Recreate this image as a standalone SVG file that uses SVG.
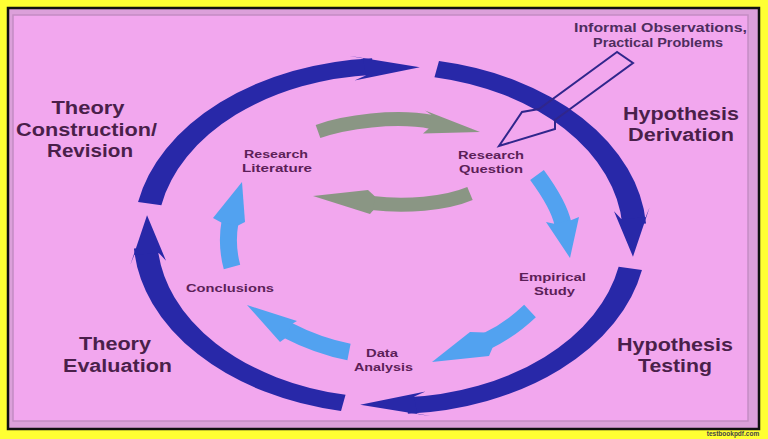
<svg xmlns="http://www.w3.org/2000/svg" width="768" height="439" viewBox="0 0 768 439">
<defs>
<style>
.big{font-family:"Liberation Sans",Arial,sans-serif;font-weight:700;font-size:18px;fill:#4a1f4a;text-anchor:middle}
.sm{font-family:"Liberation Sans",Arial,sans-serif;font-weight:700;font-size:11.5px;fill:#5c1f58;text-anchor:middle}
.inf{font-family:"Liberation Sans",Arial,sans-serif;font-weight:700;font-size:12.5px;fill:#4e2d5e;text-anchor:middle}
.arc{fill:none;stroke:#2828a8;stroke-width:16.5}
.arcHead{fill:#2828a8}
.lb{fill:none;stroke:#52a2f0;stroke-width:17}
.lbh{fill:#52a2f0}
.gr{fill:none;stroke:#8a9684;stroke-width:14}
.grh{fill:#8a9684}
</style>
<g id="bigArrowShape">
<path class="arc" d="M -166.88 -32.44 A 170 170 0 0 1 -11.86 -169.59"/>
<polygon class="arcHead" points="-18.66,-177.52 -28.55,-180.25 20.72,-168.73 -24.64,-155.56 -16.88,-160.61"/>
</g>
</defs>
<rect width="768" height="439" fill="#ffff33"/>
<rect x="8" y="8" width="751" height="421" fill="#dca0da" stroke="#111" stroke-width="2.5"/>
<rect x="13" y="15" width="735" height="406" fill="#f2a7ee" stroke="#c48cc4" stroke-width="1.5"/>
<text x="733" y="436" font-family="Liberation Sans, sans-serif" font-weight="bold" font-size="6.5" fill="#444" text-anchor="middle">testbookpdf.com</text>

<g id="connectors">
<g transform="translate(390,236) scale(1.44,1)">
<use href="#bigArrowShape"/>
<use href="#bigArrowShape" transform="rotate(90)"/>
<use href="#bigArrowShape" transform="rotate(180)"/>
<use href="#bigArrowShape" transform="rotate(270)"/>
</g>
<path class="gr" d="M 318 131.5 C 345 122 395 115 432 122"/>
<polygon class="grh" points="431.3,114.7 425,110.5 480,132 423,133.5 428.7,128.5"/>
<path class="gr" d="M 470 193.5 C 445 204 405 207 372 203"/>
<polygon class="grh" points="374.8,196.3 368,190 313,196 370,214 373.2,210.2"/>
<path class="lb" d="M 537 175 Q 559 205 563 224"/>
<polygon class="lbh" points="554.3,223.8 546,222 570,258 579,217 570.9,220.3"/>
<path class="lb" d="M 530 311 Q 510 330 487 341"/>
<polygon class="lbh" points="485.1,332.5 470,332 432,362 489,356 492.5,347.8"/>
<path class="lb" d="M 349 352 Q 318 346 287 330"/>
<polygon class="lbh" points="292.7,323.4 297,321 247,305 280,342 284.9,338.5"/>
<path class="lb" d="M 232 267 Q 226 245 230 222"/>
<polygon class="lbh" points="221.3,222.5 213,218 242,182 245,222 238.1,225.5"/>
<polygon points="617,52 539,109 522,112 499,146 555,129 555,120 633,63" fill="none" stroke="#30268c" stroke-width="2"/>
</g>

<g id="theory-construction">
<text class="big" x="88" y="114" textLength="73" lengthAdjust="spacingAndGlyphs">Theory</text>
<text class="big" x="86.5" y="136" textLength="141" lengthAdjust="spacingAndGlyphs">Construction/</text>
<text class="big" x="90" y="156.5" textLength="86" lengthAdjust="spacingAndGlyphs">Revision</text>
</g>
<g id="hypothesis-derivation">
<text class="big" x="681" y="120" textLength="116" lengthAdjust="spacingAndGlyphs">Hypothesis</text>
<text class="big" x="681" y="141" textLength="106" lengthAdjust="spacingAndGlyphs">Derivation</text>
</g>
<g id="hypothesis-testing">
<text class="big" x="675" y="351" textLength="116" lengthAdjust="spacingAndGlyphs">Hypothesis</text>
<text class="big" x="675" y="372" textLength="74" lengthAdjust="spacingAndGlyphs">Testing</text>
</g>
<g id="theory-evaluation">
<text class="big" x="115" y="350" textLength="72" lengthAdjust="spacingAndGlyphs">Theory</text>
<text class="big" x="117.5" y="372" textLength="109" lengthAdjust="spacingAndGlyphs">Evaluation</text>
</g>
<g id="research-literature">
<text class="sm" x="276" y="158" textLength="64" lengthAdjust="spacingAndGlyphs">Research</text>
<text class="sm" x="277" y="172" textLength="70" lengthAdjust="spacingAndGlyphs">Literature</text>
</g>
<g id="research-question">
<text class="sm" x="491" y="159" textLength="66" lengthAdjust="spacingAndGlyphs">Research</text>
<text class="sm" x="491" y="173" textLength="64" lengthAdjust="spacingAndGlyphs">Question</text>
</g>
<g id="empirical-study">
<text class="sm" x="552.5" y="281" textLength="67" lengthAdjust="spacingAndGlyphs">Empirical</text>
<text class="sm" x="554.5" y="295" textLength="41" lengthAdjust="spacingAndGlyphs">Study</text>
</g>
<g id="data-analysis">
<text class="sm" x="382" y="357" textLength="32" lengthAdjust="spacingAndGlyphs">Data</text>
<text class="sm" x="383.5" y="370.5" textLength="59" lengthAdjust="spacingAndGlyphs">Analysis</text>
</g>
<g id="conclusions">
<text class="sm" x="230" y="292" textLength="88" lengthAdjust="spacingAndGlyphs">Conclusions</text>
</g>
<g id="informal-observations">
<text class="inf" x="660.5" y="32" textLength="173" lengthAdjust="spacingAndGlyphs">Informal Observations,</text>
<text class="inf" x="658" y="47" textLength="130" lengthAdjust="spacingAndGlyphs">Practical Problems</text>
</g>
</svg>
